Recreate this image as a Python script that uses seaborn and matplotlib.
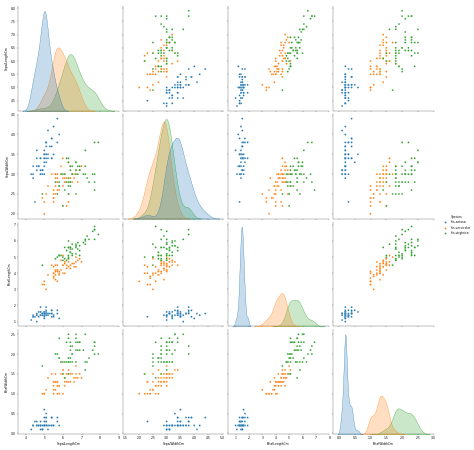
import matplotlib
matplotlib.use("Agg")
import matplotlib.pyplot as plt
import seaborn as sns
import pandas as pd

setosa = [
(5.1,3.5,1.4,0.2),(4.9,3.0,1.4,0.2),(4.7,3.2,1.3,0.2),(4.6,3.1,1.5,0.2),(5.0,3.6,1.4,0.2),
(5.4,3.9,1.7,0.4),(4.6,3.4,1.4,0.3),(5.0,3.4,1.5,0.2),(4.4,2.9,1.4,0.2),(4.9,3.1,1.5,0.1),
(5.4,3.7,1.5,0.2),(4.8,3.4,1.6,0.2),(4.8,3.0,1.4,0.1),(4.3,3.0,1.1,0.1),(5.8,4.0,1.2,0.2),
(5.7,4.4,1.5,0.4),(5.4,3.9,1.3,0.4),(5.1,3.5,1.4,0.3),(5.7,3.8,1.7,0.3),(5.1,3.8,1.5,0.3),
(5.4,3.4,1.7,0.2),(5.1,3.7,1.5,0.4),(4.6,3.6,1.0,0.2),(5.1,3.3,1.7,0.5),(4.8,3.4,1.9,0.2),
(5.0,3.0,1.6,0.2),(5.0,3.4,1.6,0.4),(5.2,3.5,1.5,0.2),(5.2,3.4,1.4,0.2),(4.7,3.2,1.6,0.2),
(4.8,3.1,1.6,0.2),(5.4,3.4,1.5,0.4),(5.2,4.1,1.5,0.1),(5.5,4.2,1.4,0.2),(4.9,3.1,1.5,0.1),
(5.0,3.2,1.2,0.2),(5.5,3.5,1.3,0.2),(4.9,3.1,1.5,0.1),(4.4,3.0,1.3,0.2),(5.1,3.4,1.5,0.2),
(5.0,3.5,1.3,0.3),(4.5,2.3,1.3,0.3),(4.4,3.2,1.3,0.2),(5.0,3.5,1.6,0.6),(5.1,3.8,1.9,0.4),
(4.8,3.0,1.4,0.3),(5.1,3.8,1.6,0.2),(4.6,3.2,1.4,0.2),(5.3,3.7,1.5,0.2),(5.0,3.3,1.4,0.2)]
versicolor = [
(7.0,3.2,4.7,1.4),(6.4,3.2,4.5,1.5),(6.9,3.1,4.9,1.5),(5.5,2.3,4.0,1.3),(6.5,2.8,4.6,1.5),
(5.7,2.8,4.5,1.3),(6.3,3.3,4.7,1.6),(4.9,2.4,3.3,1.0),(6.6,2.9,4.6,1.3),(5.2,2.7,3.9,1.4),
(5.0,2.0,3.5,1.0),(5.9,3.0,4.2,1.5),(6.0,2.2,4.0,1.0),(6.1,2.9,4.7,1.4),(5.6,2.9,3.6,1.3),
(6.7,3.1,4.4,1.4),(5.6,3.0,4.5,1.5),(5.8,2.7,4.1,1.0),(6.2,2.2,4.5,1.5),(5.6,2.5,3.9,1.1),
(5.9,3.2,4.8,1.8),(6.1,2.8,4.0,1.3),(6.3,2.5,4.9,1.5),(6.1,2.8,4.7,1.2),(6.4,2.9,4.3,1.3),
(6.6,3.0,4.4,1.4),(6.8,2.8,4.8,1.4),(6.7,3.0,5.0,1.7),(6.0,2.9,4.5,1.5),(5.7,2.6,3.5,1.0),
(5.5,2.4,3.8,1.1),(5.5,2.4,3.7,1.0),(5.8,2.7,3.9,1.2),(6.0,2.7,5.1,1.6),(5.4,3.0,4.5,1.5),
(6.0,3.4,4.5,1.6),(6.7,3.1,4.7,1.5),(6.3,2.3,4.4,1.3),(5.6,3.0,4.1,1.3),(5.5,2.5,4.0,1.3),
(5.5,2.6,4.4,1.2),(6.1,3.0,4.6,1.4),(5.8,2.6,4.0,1.2),(5.0,2.3,3.3,1.0),(5.6,2.7,4.2,1.3),
(5.7,3.0,4.2,1.2),(5.7,2.9,4.2,1.3),(6.2,2.9,4.3,1.3),(5.1,2.5,3.0,1.1),(5.7,2.8,4.1,1.3)]
virginica = [
(6.3,3.3,6.0,2.5),(5.8,2.7,5.1,1.9),(7.1,3.0,5.9,2.1),(6.3,2.9,5.6,1.8),(6.5,3.0,5.8,2.2),
(7.6,3.0,6.6,2.1),(4.9,2.5,4.5,1.7),(7.3,2.9,6.3,1.8),(6.7,2.5,5.8,1.8),(7.2,3.6,6.1,2.5),
(6.5,3.2,5.1,2.0),(6.4,2.7,5.3,1.9),(6.8,3.0,5.5,2.1),(5.7,2.5,5.0,2.0),(5.8,2.8,5.1,2.4),
(6.4,3.2,5.3,2.3),(6.5,3.0,5.5,1.8),(7.7,3.8,6.7,2.2),(7.7,2.6,6.9,2.3),(6.0,2.2,5.0,1.5),
(6.9,3.2,5.7,2.3),(5.6,2.8,4.9,2.0),(7.7,2.8,6.7,2.0),(6.3,2.7,4.9,1.8),(6.7,3.3,5.7,2.1),
(7.2,3.2,6.0,1.8),(6.2,2.8,4.8,1.8),(6.1,3.0,4.9,1.8),(6.4,2.8,5.6,2.1),(7.2,3.0,5.8,1.6),
(7.4,2.8,6.1,1.9),(7.9,3.8,6.4,2.0),(6.4,2.8,5.6,2.2),(6.3,2.8,5.1,1.5),(6.1,2.6,5.6,1.4),
(7.7,3.0,6.1,2.3),(6.3,3.4,5.6,2.4),(6.4,3.1,5.5,1.8),(6.0,3.0,4.8,1.8),(6.9,3.1,5.4,2.1),
(6.7,3.1,5.6,2.4),(6.9,3.1,5.1,2.3),(5.8,2.7,5.1,1.9),(6.8,3.2,5.9,2.3),(6.7,3.3,5.7,2.5),
(6.7,3.0,5.2,2.3),(6.3,2.5,5.0,1.9),(6.5,3.0,5.2,2.0),(6.2,3.4,5.4,2.3),(5.9,3.0,5.1,1.8)]

columns = ["SepalLengthCm", "SepalWidthCm", "PetalLengthCm", "PetalWidthCm"]
species_names = ["Iris-setosa", "Iris-versicolor", "Iris-virginica"]

frames = []
for name, rows in zip(species_names, [setosa, versicolor, virginica]):
    d = pd.DataFrame(rows, columns=columns)
    d["Species"] = name
    frames.append(d)
df = pd.concat(frames, ignore_index=True)

g = sns.pairplot(df, hue="Species", height=5)
w, h = g.figure.get_size_inches()
g.figure.set_size_inches(w, w * 450 / 474)
g.figure.savefig("out.png", dpi=474 / w)
